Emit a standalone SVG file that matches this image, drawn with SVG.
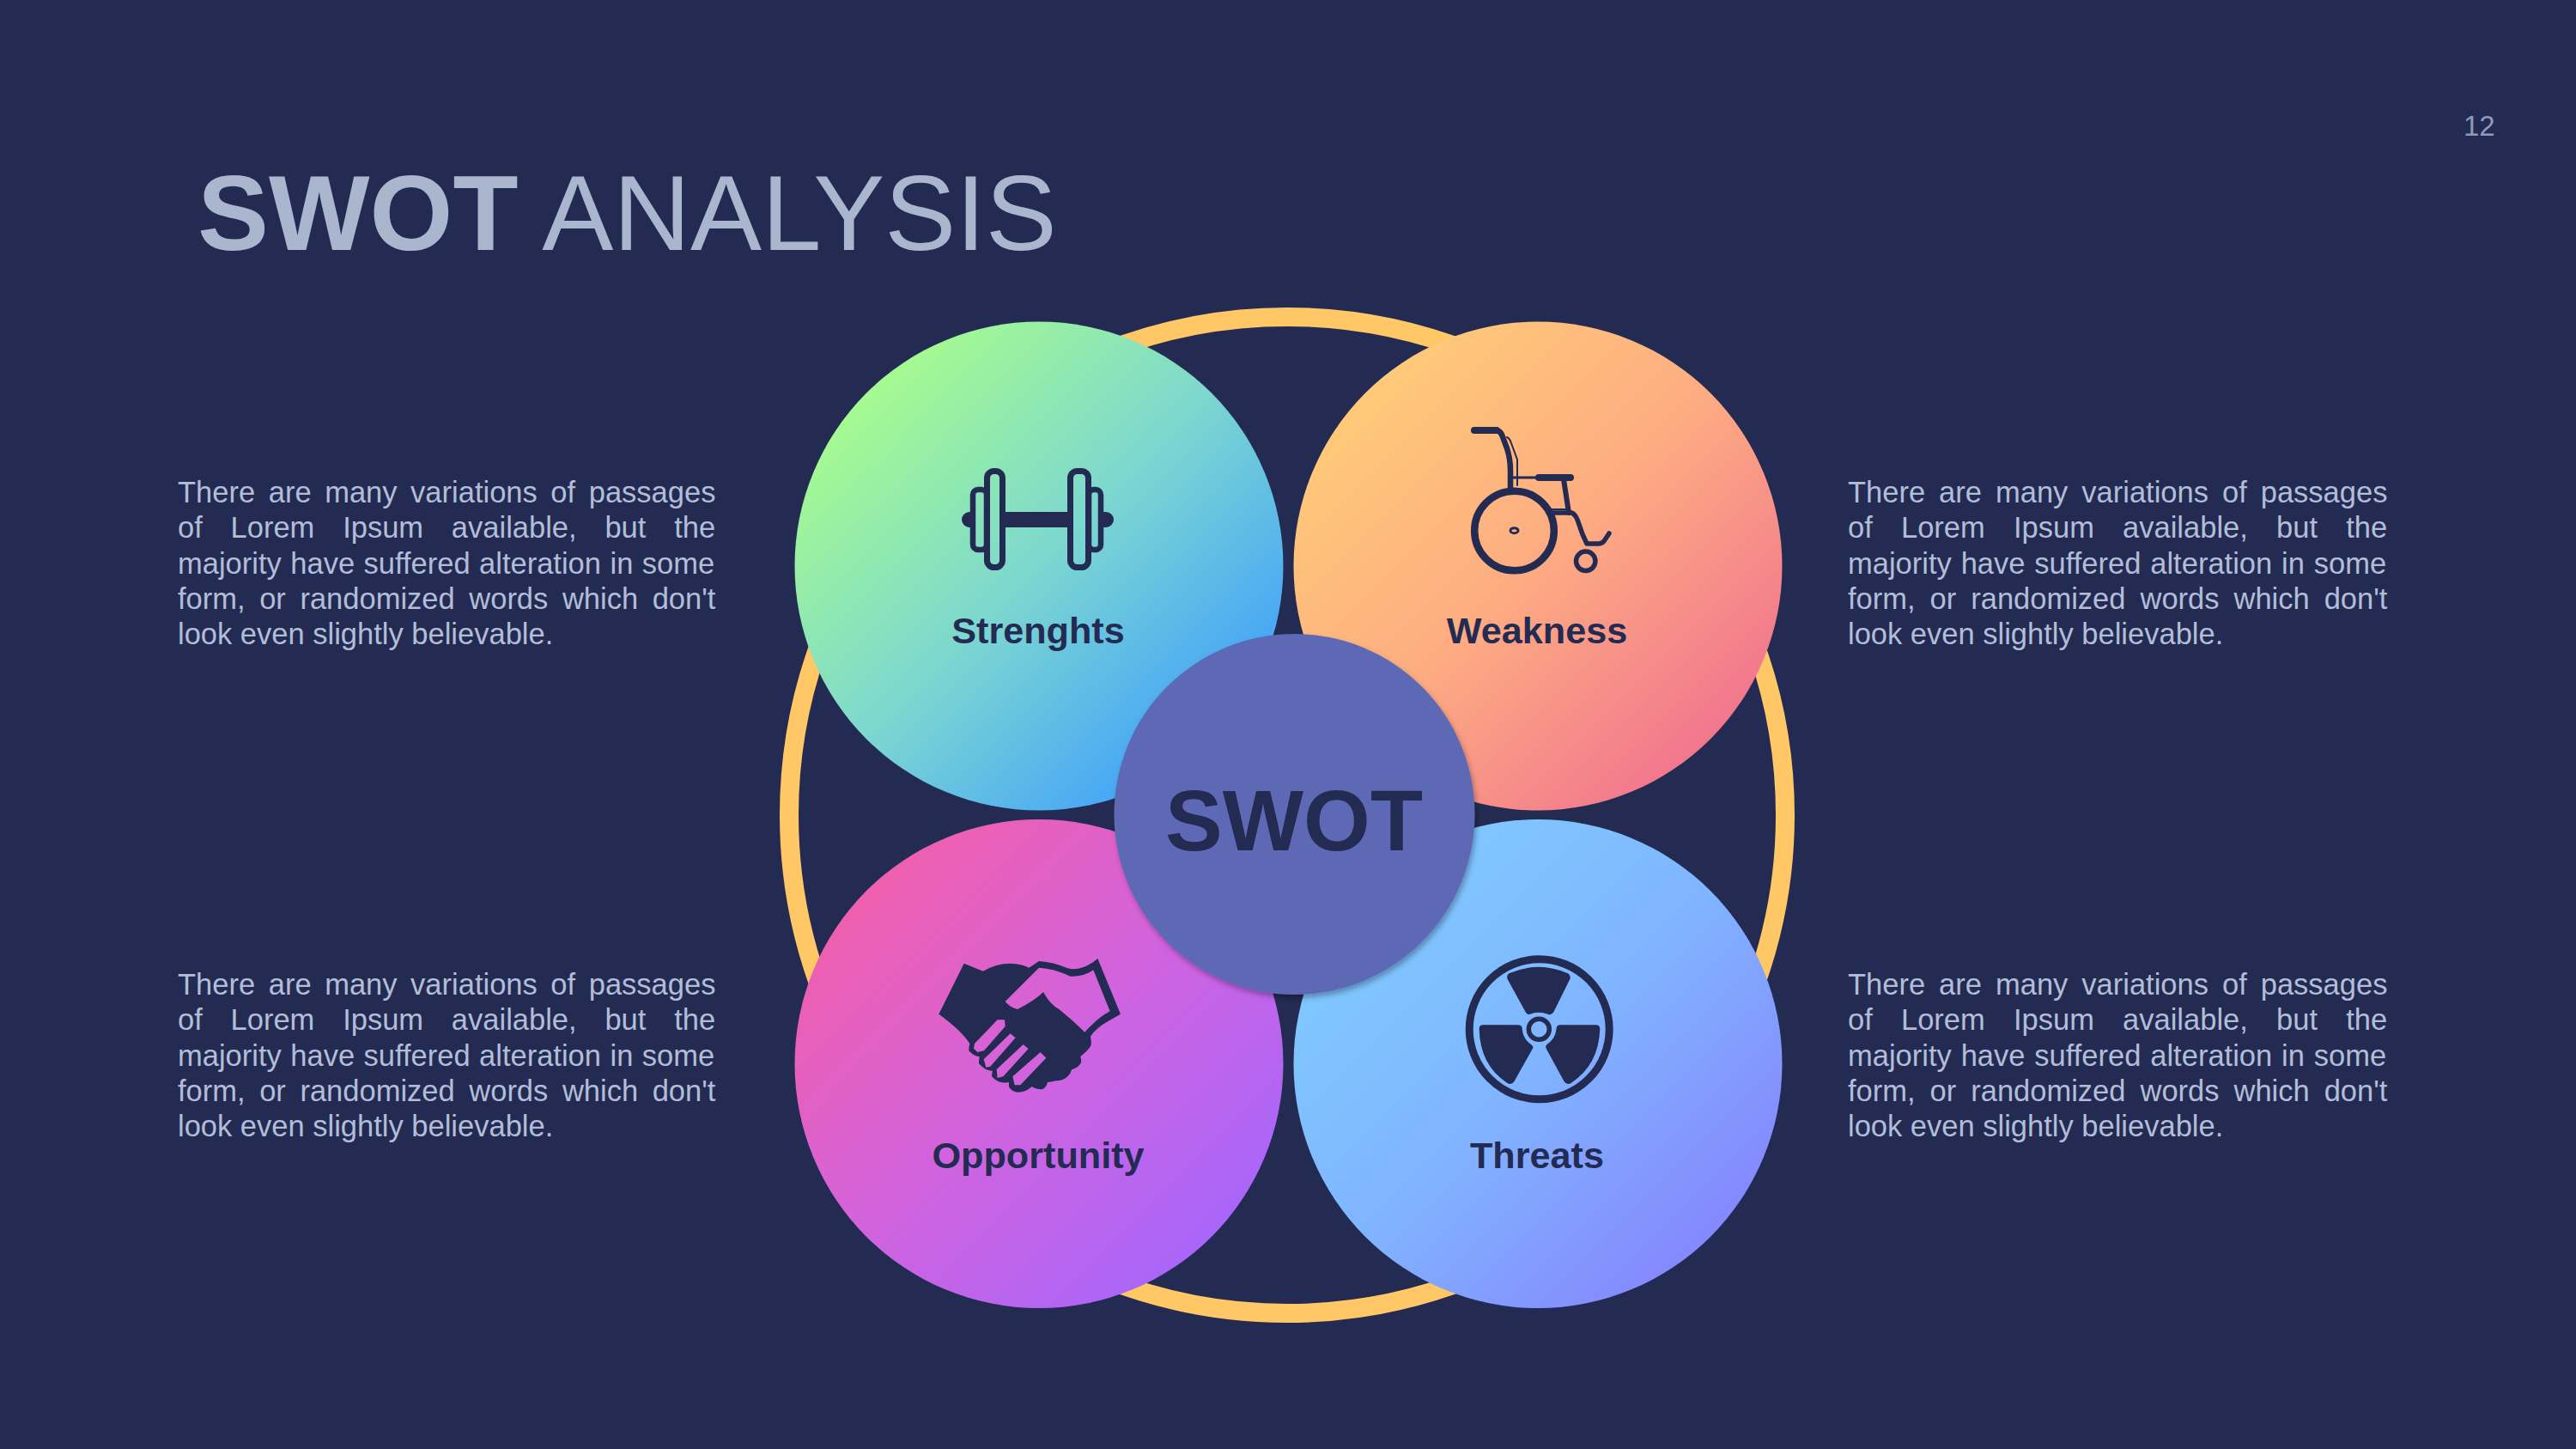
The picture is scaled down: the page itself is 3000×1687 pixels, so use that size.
<svg xmlns="http://www.w3.org/2000/svg" width="3000" height="1687" viewBox="0 0 3000 1687">
<style>
text{font-family:"Liberation Sans",Arial,sans-serif}
.b{font-size:34.5px;fill:#b2bdd8}
.l{font-size:43.2px;font-weight:700;fill:#232b52;text-anchor:middle}
.i{fill:#232b52}
.s{fill:none;stroke:#232b52;stroke-linecap:round;stroke-linejoin:round}
</style>
<defs>
<linearGradient id="gS" x1="0" y1="0" x2="1" y2="1"><stop offset=".14" stop-color="#a6fb8e"/><stop offset=".5" stop-color="#7cd7d0"/><stop offset=".86" stop-color="#41a0fb"/></linearGradient>
<linearGradient id="gW" x1="0" y1="0" x2="1" y2="1"><stop offset=".14" stop-color="#ffca78"/><stop offset=".5" stop-color="#fdab82"/><stop offset=".9" stop-color="#f0708f"/></linearGradient>
<linearGradient id="gO" x1="0" y1="0" x2="1" y2="1"><stop offset=".14" stop-color="#f05fae"/><stop offset=".5" stop-color="#d163de"/><stop offset=".88" stop-color="#a666fb"/></linearGradient>
<linearGradient id="gT" x1="0" y1="0" x2="1" y2="1"><stop offset=".14" stop-color="#7fcaff"/><stop offset=".5" stop-color="#80b4ff"/><stop offset=".88" stop-color="#8585fd"/></linearGradient>
<filter id="sh" x="-10%" y="-10%" width="120%" height="120%"><feDropShadow dx="2" dy="4" stdDeviation="3" flood-color="#000" flood-opacity=".3"/></filter>
</defs>
<rect width="3000" height="1687" fill="#232b52"/>
<text x="2869" y="158" font-size="33" fill="#8e99bd">12</text>
<text x="230" y="291" font-size="124.500" fill="#aab6ce"><tspan font-weight="700">SWOT</tspan> ANALYSIS</text>

<circle id="ring" cx="1499" cy="949" r="580" fill="none" stroke="#ffc766" stroke-width="22"/>

<g id="strengths">
<circle cx="1210" cy="659" r="284.500" fill="url(#gS)"/>
<path class="i" d="M1130 596h-1a9 9 0 0 0 0 18h1zM1285 596h3a9 9 0 0 1 0 18h-3zM1168 596h78v18h-78z"/>
<rect x="1133" y="570" width="16" height="70" rx="6" class="s" stroke-width="6.500"/>
<rect x="1149.500" y="548.500" width="18" height="112" rx="8" class="s" stroke-width="7"/>
<rect x="1246.500" y="548.500" width="21" height="112" rx="8" class="s" stroke-width="7"/>
<rect x="1268" y="570" width="14" height="70" rx="6" class="s" stroke-width="6.500"/>
<text class="l" x="1209" y="749">Strenghts</text>
</g>

<g id="weakness">
<circle cx="1791" cy="659" r="284.500" fill="url(#gW)"/>
<circle cx="1763.500" cy="618" r="46.300" class="s" stroke-width="8.500"/>
<circle cx="1846.700" cy="653.300" r="11.200" class="s" stroke-width="5.500"/>
<path class="s" stroke-width="8" d="M1717 501H1743"/>
<path class="s" stroke-width="6.500" d="M1743 501Q1747 502 1749 506L1755 522Q1759 534 1759 548V567"/>
<path class="s" stroke-width="2" d="M1755 509Q1758 510 1760 516L1767 535V565"/>
<path class="s" stroke-width="3" d="M1762 556H1790"/>
<path class="s" stroke-width="8" d="M1792 556H1829"/>
<path class="s" stroke-width="6" d="M1821 558L1827 597"/>
<path class="s" stroke-width="5.500" d="M1808 597H1830Q1834 598 1837 605L1843 622L1848 633H1862Q1865 633 1868 630L1874 621"/>
<path class="s" stroke-width="2" d="M1807 593H1823"/>
<ellipse cx="1763.500" cy="617.700" rx="4.500" ry="3" class="s" stroke-width="3"/>
<text class="l" x="1790" y="749">Weakness</text>
</g>

<g id="opportunity">
<circle cx="1210" cy="1238.500" r="284.500" fill="url(#gO)"/>
<path class="i" fill-rule="evenodd" transform="translate(1070 1090) scale(.3333)" d="M158 95L225 122Q270 95 320 95Q360 97 385 110L420 87Q470 90 520 112Q570 125 625 78L705 272L665 295Q620 320 600 350Q605 375 600 385Q590 400 565 420Q570 440 565 445Q555 460 535 465Q530 480 520 490Q505 505 480 505Q465 508 450 510Q445 530 430 535Q410 535 395 525Q375 545 345 545Q320 540 315 525L315 510Q280 518 255 490Q255 480 258 470Q235 472 210 445Q210 430 212 420Q195 422 175 400Q175 385 178 375Q150 330 70 272ZM420 110Q470 112 530 140Q575 142 610 118L668 262Q625 285 580 335Q540 295 490 255Q460 240 435 195Q405 225 345 255Q320 250 302 228ZM195 375L275 292H300L302 315L228 400L205 405L192 392ZM320 340L338 355L250 455L235 458L227 430ZM365 378L383 393L295 490L275 495L272 465ZM425 405L445 425L355 520L335 520L328 490Z"/>
<text class="l" x="1209" y="1360">Opportunity</text>
</g>

<g id="threats">
<circle cx="1791" cy="1238.500" r="284.500" fill="url(#gT)"/>
<circle cx="1792.700" cy="1198.300" r="81.500" class="s" stroke-width="9"/>
<circle cx="1792.300" cy="1198.300" r="12" class="s" stroke-width="5.500"/>
<path class="i" transform="translate(1680 1090) scale(.3333)" d="M232 130Q335 85 438 130Q450 138 445 150L388 265Q380 278 368 272Q335 260 305 272Q295 276 290 265L227 150Q222 138 232 130ZM140 310H265Q278 312 278 322Q280 360 312 380Q318 385 315 392L250 508Q240 522 225 512Q130 450 128 322Q128 312 140 310ZM410 310H538Q550 312 550 325Q545 450 450 512Q435 522 425 508L362 392Q358 383 365 378Q395 358 398 322Q398 312 410 310Z"/>
<text class="l" x="1790" y="1360">Threats</text>
</g>

<g id="swot">
<circle cx="1507.500" cy="948" r="210" fill="#5d69b5" filter="url(#sh)"/>
<text x="1507" y="990" font-size="100" font-weight="700" fill="#232b52" text-anchor="middle">SWOT</text>
</g>

<g id="text-tl">
<text class="b" x="207" y="585" word-spacing="6">There are many variations of passages</text>
<text class="b" x="207" y="626" word-spacing="23.200">of Lorem Ipsum available, but the</text>
<text class="b" x="207" y="667.500" word-spacing="0.900">majority have suffered alteration in some</text>
<text class="b" x="207" y="708.500" word-spacing="7">form, or randomized words which don't</text>
<text class="b" x="207" y="750">look even slightly believable.</text>
</g>
<g id="text-tr">
<text class="b" x="2152" y="585" word-spacing="6.400">There are many variations of passages</text>
<text class="b" x="2152" y="626" word-spacing="23.600">of Lorem Ipsum available, but the</text>
<text class="b" x="2152" y="667.500" word-spacing="1.300">majority have suffered alteration in some</text>
<text class="b" x="2152" y="708.500" word-spacing="7.400">form, or randomized words which don't</text>
<text class="b" x="2152" y="750">look even slightly believable.</text>
</g>
<g id="text-bl">
<text class="b" x="207" y="1158" word-spacing="6">There are many variations of passages</text>
<text class="b" x="207" y="1199" word-spacing="23.200">of Lorem Ipsum available, but the</text>
<text class="b" x="207" y="1240.500" word-spacing="0.900">majority have suffered alteration in some</text>
<text class="b" x="207" y="1281.500" word-spacing="7">form, or randomized words which don't</text>
<text class="b" x="207" y="1323">look even slightly believable.</text>
</g>
<g id="text-br">
<text class="b" x="2152" y="1158" word-spacing="6.400">There are many variations of passages</text>
<text class="b" x="2152" y="1199" word-spacing="23.600">of Lorem Ipsum available, but the</text>
<text class="b" x="2152" y="1240.500" word-spacing="1.300">majority have suffered alteration in some</text>
<text class="b" x="2152" y="1281.500" word-spacing="7.400">form, or randomized words which don't</text>
<text class="b" x="2152" y="1323">look even slightly believable.</text>
</g>
</svg>
